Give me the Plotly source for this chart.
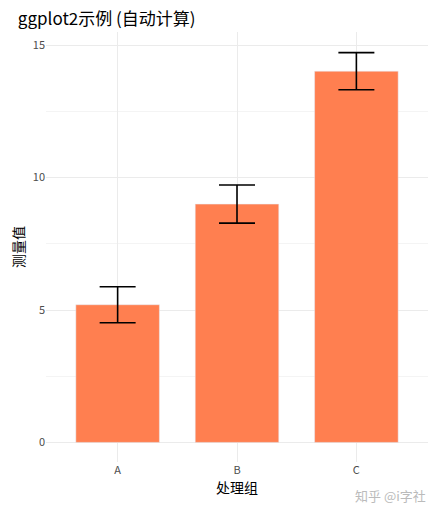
import plotly.graph_objects as go

groups = ["A", "B", "C"]
means = [5.2, 9.0, 14.02]
errs = [0.68, 0.72, 0.70]

fig = go.Figure(go.Bar(
    x=groups, y=means, width=0.7, marker_color="#FF7F50",
    error_y=dict(type="data", array=errs, color="black", thickness=1.6, width=18),
))
# page has an 8px body margin, so the figure is a little smaller than the window
fig.update_layout(
    width=429, height=500, plot_bgcolor="white", paper_bgcolor="white",
    margin=dict(l=38, r=9, t=24, b=46, autoexpand=False),
    font=dict(family="Noto Sans CJK SC, Liberation Sans", color="#333"),
    title=dict(text="ggplot2示例 (自动计算)", x=0.023, xanchor="left", y=0.99, yanchor="top",
               font=dict(size=17, color="black")),
    showlegend=False,
)
fig.update_xaxes(range=[-0.6, 2.6], showgrid=True, gridcolor="#ebebeb", ticks="", automargin=False,
                 tickfont=dict(size=11, color="#4d4d4d"),
                 title=dict(text="处理组", font=dict(size=14, color="black"), standoff=2))
fig.update_yaxes(range=[-0.74, 15.5], tickvals=[0, 5, 10, 15], showgrid=True, gridcolor="#ebebeb",
                 minor=dict(tickvals=[2.5, 7.5, 12.5], showgrid=True, gridcolor="#f4f4f4"),
                 zeroline=False, automargin=False, tickfont=dict(size=11, color="#4d4d4d"),
                 title=dict(text="测量值", font=dict(size=14, color="black"), standoff=4))
fig.add_annotation(text="知乎 @i字社", xref="paper", yref="paper", x=1.0, y=-0.05,
                   xanchor="right", yanchor="top", showarrow=False, font=dict(size=13, color="#bbbbbb"))
fig.write_html("out.html")
